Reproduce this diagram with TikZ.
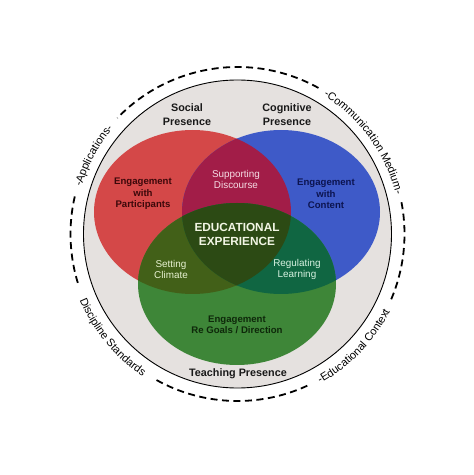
\documentclass[tikz,border=0pt]{standalone}
\usepackage{fontspec}
\setmainfont{Liberation Sans}
\usetikzlibrary{decorations.text}
\definecolor{cgray}{RGB}{229,225,223}
\definecolor{cred}{RGB}{212,72,72}
\definecolor{cblue}{RGB}{62,90,200}
\definecolor{cgreen}{RGB}{62,134,56}
\definecolor{crb}{RGB}{162,29,72}
\definecolor{crg}{RGB}{66,96,24}
\definecolor{cbg}{RGB}{16,102,66}
\definecolor{call}{RGB}{44,74,20}
\definecolor{tred}{RGB}{60,8,10}
\definecolor{tblue}{RGB}{12,20,80}
\definecolor{tgreen}{RGB}{14,40,10}
\newcommand{\otext}{\fontsize{11}{13}\selectfont}
\begin{document}
\begin{tikzpicture}[x=1pt,y=1pt,
  head/.style={font=\bfseries\fontsize{10.8}{14}\selectfont, align=center, text=black!90},
  eng/.style={font=\bfseries\fontsize{9.6}{11.4}\selectfont, align=center},
  inner/.style={font=\fontsize{9.9}{11.4}\selectfont, align=center},
  outerdash/.style={line width=1.8pt, dash pattern=on 7pt off 4.5pt},
  otxt/.style={decorate, decoration={text along path, text align=center, text={#1}}}]
\useasboundingbox[fill=white] (0,0) rectangle (474,475);
% background circle
\fill[cgray] (237.5,241) circle[radius=154];
\draw[line width=0.9pt] (237.5,241) circle[radius=154];
% ellipses
\fill[cred] (192.5,263) ellipse[x radius=98.5, y radius=82];
\fill[cblue] (281,263) ellipse[x radius=99, y radius=82];
\fill[cgreen] (237,191) ellipse[x radius=99, y radius=81];
\begin{scope}
  \clip (192.5,263) ellipse[x radius=98.5, y radius=82];
  \fill[crb] (281,263) ellipse[x radius=99, y radius=82];
  \fill[crg] (237,191) ellipse[x radius=99, y radius=81];
\end{scope}
\begin{scope}
  \clip (281,263) ellipse[x radius=99, y radius=82];
  \fill[cbg] (237,191) ellipse[x radius=99, y radius=81];
  \clip (192.5,263) ellipse[x radius=98.5, y radius=82];
  \fill[call] (237,191) ellipse[x radius=99, y radius=81];
\end{scope}
% dashed outer circle with gaps
\begin{scope}[shift={(237.5,241)}]
  \draw[outerdash] (61:167) arc[start angle=61, end angle=136, radius=167];
  \draw[outerdash] (167:167) arc[start angle=167, end angle=198, radius=167];
  \draw[outerdash] (241:167) arc[start angle=241, end angle=296, radius=167];
  \draw[outerdash] (337:167) arc[start angle=337, end angle=371, radius=167];
  \path[otxt={|\otext|-Applications-}] (191.5:163) arc[start angle=191.5, end angle=111.5, radius=163];
  \path[otxt={|\otext|-Communication Medium-}] (76:163) arc[start angle=76, end angle=-4, radius=163];
  \path[otxt={|\otext|Discipline Standards}] (179.5:171) arc[start angle=179.5, end angle=259.5, radius=171];
  \path[otxt={|\otext|-Educational Context}] (276:171) arc[start angle=276, end angle=356, radius=171];
\end{scope}
% labels
\node[head] (social) at (187,360) {Social\\Presence};
\node[head] (cognitive) at (287,360) {Cognitive\\Presence};
\node[head] (teaching) at (238,101.5) {Teaching Presence};
\node[eng, text=tred] (engp) at (143,281) {Engagement\\with\\Participants};
\node[eng, text=tblue] (engc) at (326,281) {Engagement\\with\\Content};
\node[eng, text=tgreen] (engg) at (237,150) {Engagement\\Re Goals / Direction};
\node[inner, text={rgb,255:red,245;green,220;blue,228}] (supp) at (236,295.5) {Supporting\\Discourse};
\node[inner, text={rgb,255:red,232;green,242;blue,210}] (sett) at (171,205.3) {Setting\\Climate};
\node[inner, text={rgb,255:red,215;green,242;blue,225}] (regl) at (297,205.3) {Regulating\\Learning};
\node[font=\bfseries\fontsize{11.8}{13.3}\selectfont, align=center, text={rgb,255:red,242;green,246;blue,228}] (edu) at (237,240.5) {EDUCATIONAL\\EXPERIENCE};
\end{tikzpicture}
\end{document}
